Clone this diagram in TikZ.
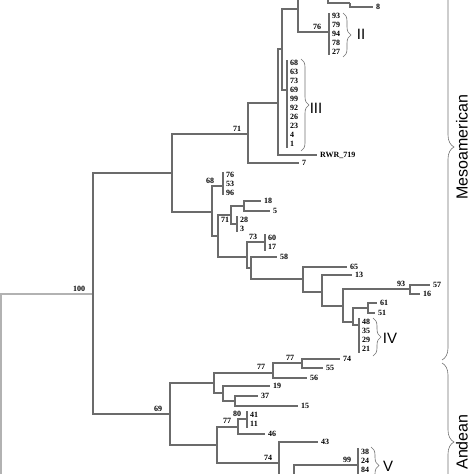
\documentclass[tikz,border=0pt]{standalone}
\usepackage{fontspec}
\setmainfont{Liberation Serif}
\setsansfont{Liberation Sans}
\usetikzlibrary{decorations.pathreplacing}
\colorlet{brgray}{black!58}
\newcommand{\lfont}{\bfseries\fontsize{8}{9}\selectfont}

\begin{document}
\begin{tikzpicture}[x=1pt,y=-1pt,
   br/.style={draw=brgray,line width=1.1pt},
   rootbr/.style={draw=black!30,line width=2pt},
   lf/.style={anchor=west,xshift=3pt,font=\lfont,inner sep=0pt,text height=5.4pt,text depth=0pt},
   bs/.style={font=\lfont,inner sep=0pt,text height=5.4pt,text depth=0pt},
   grp/.style={font=\sffamily\fontsize{15}{15}\selectfont,inner sep=0pt},
   clade/.style={font=\sffamily\fontsize{16}{16}\selectfont,inner sep=0pt,rotate=90},
   brc/.style={draw=black!55,line width=0.6pt,decorate,decoration={brace,amplitude=8pt}},
   bigbrc/.style={draw=black!55,line width=0.6pt,decorate,decoration={brace,amplitude=12pt}}]
  \useasboundingbox (0,0) rectangle (474,474);
  \fill[white] (0,0) rectangle (474,474);
  \clip (0,0) rectangle (474,474);

  % internal nodes: x of the vertical bar, y of the incoming branch
  \coordinate (root) at (1,520);
  \coordinate (n100) at (93,294);
  \coordinate (nMeso) at (172,173);
  \coordinate (nAnd) at (170,414);
  \coordinate (n71a) at (248,134);
  \coordinate (nC) at (212,212);
  \coordinate (nD) at (278,103);
  \coordinate (nE) at (282,49);
  \coordinate (nF) at (298,9);
  \coordinate (nF1) at (328,-12);
  \coordinate (nF2) at (350,3);
  \coordinate (nP) at (218,236);
  \coordinate (n71b) at (231,215);
  \coordinate (nS) at (244,206);
  \coordinate (nT) at (247,257);
  \coordinate (nU) at (251,268);
  \coordinate (nV) at (303,279);
  \coordinate (nW) at (322,292);
  \coordinate (nX) at (343,306);
  \coordinate (n93) at (410,289);
  \coordinate (nZ) at (353,322);
  \coordinate (nK) at (368,308);
  \coordinate (nO) at (214,383);
  \coordinate (n77a) at (273,373);
  \coordinate (n77b) at (302,363);
  \coordinate (nO2) at (223,393);
  \coordinate (nO21) at (235,401);
  \coordinate (nNb) at (217,445);
  \coordinate (n77c) at (238,427);
  \coordinate (n74) at (279,463);
  \coordinate (nG) at (294,490);

  % leaves (end of the branch)
  \coordinate (l8) at (373,7);
  \coordinate (l7) at (299,163);
  \coordinate (lRWR) at (317,155);
  \coordinate (l18) at (261,201);
  \coordinate (l5) at (270,211);
  \coordinate (l58) at (277,257);
  \coordinate (l65) at (347,267);
  \coordinate (l13) at (352,275);
  \coordinate (l57) at (430,285);
  \coordinate (l16) at (420,294);
  \coordinate (l61) at (377,303);
  \coordinate (l51) at (375,313);
  \coordinate (l74) at (340,359);
  \coordinate (l55) at (323,368);
  \coordinate (l56) at (307,378);
  \coordinate (l19) at (270,386);
  \coordinate (l37) at (258,396);
  \coordinate (l15) at (298,406);
  \coordinate (l46) at (265,434);
  \coordinate (l43) at (318,442);

  % unresolved groups drawn as bars
  \coordinate (bII) at (329,32);  \coordinate (bIIt) at (329,13);  \coordinate (bIIb) at (329,55);
  \coordinate (bIII) at (287,90); \coordinate (bIIIt) at (287,60); \coordinate (bIIIb) at (287,148);
  \coordinate (b68) at (223,186); \coordinate (b68t) at (223,172); \coordinate (b68b) at (223,195);
  \coordinate (b28) at (237,224); \coordinate (b28t) at (237,216); \coordinate (b28b) at (237,232);
  \coordinate (b73) at (265,242); \coordinate (b73t) at (265,234); \coordinate (b73b) at (265,251);
  \coordinate (bIV) at (359,325); \coordinate (bIVt) at (359,318); \coordinate (bIVb) at (359,353);
  \coordinate (b80) at (247,419); \coordinate (b80t) at (247,411); \coordinate (b80b) at (247,428);
  \coordinate (b99) at (358,465); \coordinate (b99t) at (358,448); \coordinate (b99b) at (358,490);

  \draw[rootbr] (root) |- (n100);
  \draw[br] (n100) |- (nMeso) (n100) |- (nAnd)
    (nMeso) |- (n71a) (nMeso) |- (nC)
    (n71a) |- (nD) (n71a) |- (l7)
    (nD) |- (nE) (nD) |- (lRWR)
    (nE) |- (nF) (nE) |- (bIII)
    (nF) |- (nF1) (nF) |- (bII)
    (nF1) |- (nF2) (nF2) |- (l8)
    (nC) |- (b68) (nC) |- (nP)
    (nP) |- (n71b) (nP) |- (nT)
    (n71b) |- (nS) (n71b) |- (b28)
    (nS) |- (l18) (nS) |- (l5)
    (nT) |- (b73) (nT) |- (nU)
    (nU) |- (l58) (nU) |- (nV)
    (nV) |- (l65) (nV) |- (nW)
    (nW) |- (l13) (nW) |- (nX)
    (nX) |- (n93) (nX) |- (nZ)
    (n93) |- (l57) (n93) |- (l16)
    (nZ) |- (nK) (nZ) |- (bIV)
    (nK) |- (l61) (nK) |- (l51)
    (nAnd) |- (nO) (nAnd) |- (nNb)
    (nO) |- (n77a) (nO) |- (nO2)
    (n77a) |- (n77b) (n77a) |- (l56)
    (n77b) |- (l74) (n77b) |- (l55)
    (nO2) |- (l19) (nO2) |- (nO21)
    (nO21) |- (l37) (nO21) |- (l15)
    (nNb) |- (n77c) (nNb) |- (n74)
    (n77c) |- (b80) (n77c) |- (l46)
    (n74) |- (l43) (n74) |- (nG)
    (nG) |- (b99);
  \draw[br] (bIIt) -- (bIIb) (bIIIt) -- (bIIIb) (b68t) -- (b68b) (b28t) -- (b28b)
    (b73t) -- (b73b) (bIVt) -- (bIVb) (b80t) -- (b80b) (b99t) -- (b99b);

  % bootstrap values
  \node[bs] (bs100) at (79,289) {100};
  \node[bs] (bs69) at (158,409) {69};
  \node[bs] (bs71a) at (237,129) {71};
  \node[bs] (bs76) at (317,27) {76};
  \node[bs] (bs68) at (210,181) {68};
  \node[bs] (bs71b) at (225,220) {71};
  \node[bs] (bs73) at (253,237) {73};
  \node[bs] (bs93) at (401,284) {93};
  \node[bs] (bs77a) at (261,367) {77};
  \node[bs] (bs77b) at (290,358) {77};
  \node[bs] (bs77c) at (227,421) {77};
  \node[bs] (bs80) at (237,414) {80};
  \node[bs] (bs74) at (268,458) {74};
  \node[bs] (bs99) at (347,460) {99};

  % leaf labels
  \node[lf] (t8) at (l8) {8};
  \node[lf] (t7) at (l7) {7};
  \node[lf] (tRWR) at (lRWR) {RWR\_719};
  \node[lf] (t18) at (l18) {18};
  \node[lf] (t5) at (l5) {5};
  \node[lf] (t58) at (l58) {58};
  \node[lf] (t65) at (l65) {65};
  \node[lf] (t13) at (l13) {13};
  \node[lf] (t57) at (l57) {57};
  \node[lf] (t16) at (l16) {16};
  \node[lf] (t61) at (l61) {61};
  \node[lf] (t51) at (l51) {51};
  \node[lf] (t74) at (l74) {74};
  \node[lf] (t55) at (l55) {55};
  \node[lf] (t56) at (l56) {56};
  \node[lf] (t19) at (l19) {19};
  \node[lf] (t37) at (l37) {37};
  \node[lf] (t15) at (l15) {15};
  \node[lf] (t46) at (l46) {46};
  \node[lf] (t43) at (l43) {43};
  % labels beside the bars
  \node[lf] (tII1) at (329,16) {93};  \node[lf] (tII2) at (329,25) {79};
  \node[lf] (tII3) at (329,34) {94};  \node[lf] (tII4) at (329,43) {78};
  \node[lf] (tII5) at (329,52) {27};
  \node[lf] (tIII1) at (287,63) {68};  \node[lf] (tIII2) at (287,72) {63};
  \node[lf] (tIII3) at (287,81) {73};  \node[lf] (tIII4) at (287,90) {69};
  \node[lf] (tIII5) at (287,99) {99};  \node[lf] (tIII6) at (287,108) {92};
  \node[lf] (tIII7) at (287,117) {26}; \node[lf] (tIII8) at (287,126) {23};
  \node[lf] (tIII9) at (287,135) {4};  \node[lf] (tIII10) at (287,144) {1};
  \node[lf] (t76) at (223,175) {76};  \node[lf] (t53) at (223,184) {53};
  \node[lf] (t96) at (223,193) {96};
  \node[lf] (t28) at (237,220) {28};  \node[lf] (t3) at (237,229) {3};
  \node[lf] (t60) at (265,238) {60};  \node[lf] (t17) at (265,247) {17};
  \node[lf] (tIV1) at (359,322) {48};  \node[lf] (tIV2) at (359,331) {35};
  \node[lf] (tIV3) at (359,340) {29};  \node[lf] (tIV4) at (359,349) {21};
  \node[lf] (t41) at (247,415) {41};  \node[lf] (t11) at (247,424) {11};
  \node[lf] (tV1) at (358,452) {38};  \node[lf] (tV2) at (358,461) {24};
  \node[lf] (tV3) at (358,470) {84};

  % group braces
  \draw[brc] (343,13) -- (343,57);
  \node[grp] (gII) at (361,34) {II};
  \draw[brc] (301,59) -- (301,151);
  \node[grp] (gIII) at (316,108) {III};
  \draw[brc] (373,318) -- (373,356);
  \node[grp] (gIV) at (390,338) {IV};
  \draw[brc] (371,447) -- (371,484);
  \node[grp] (gV) at (388,466) {V};
  \draw[bigbrc] (442,-66) -- (442,360);
  \node[clade] (cMeso) at (462,147) {Mesoamerican};
  \draw[bigbrc] (442,363) -- (442,521);
  \node[clade] (cAnd) at (462,442) {Andean};
\end{tikzpicture}
\end{document}
